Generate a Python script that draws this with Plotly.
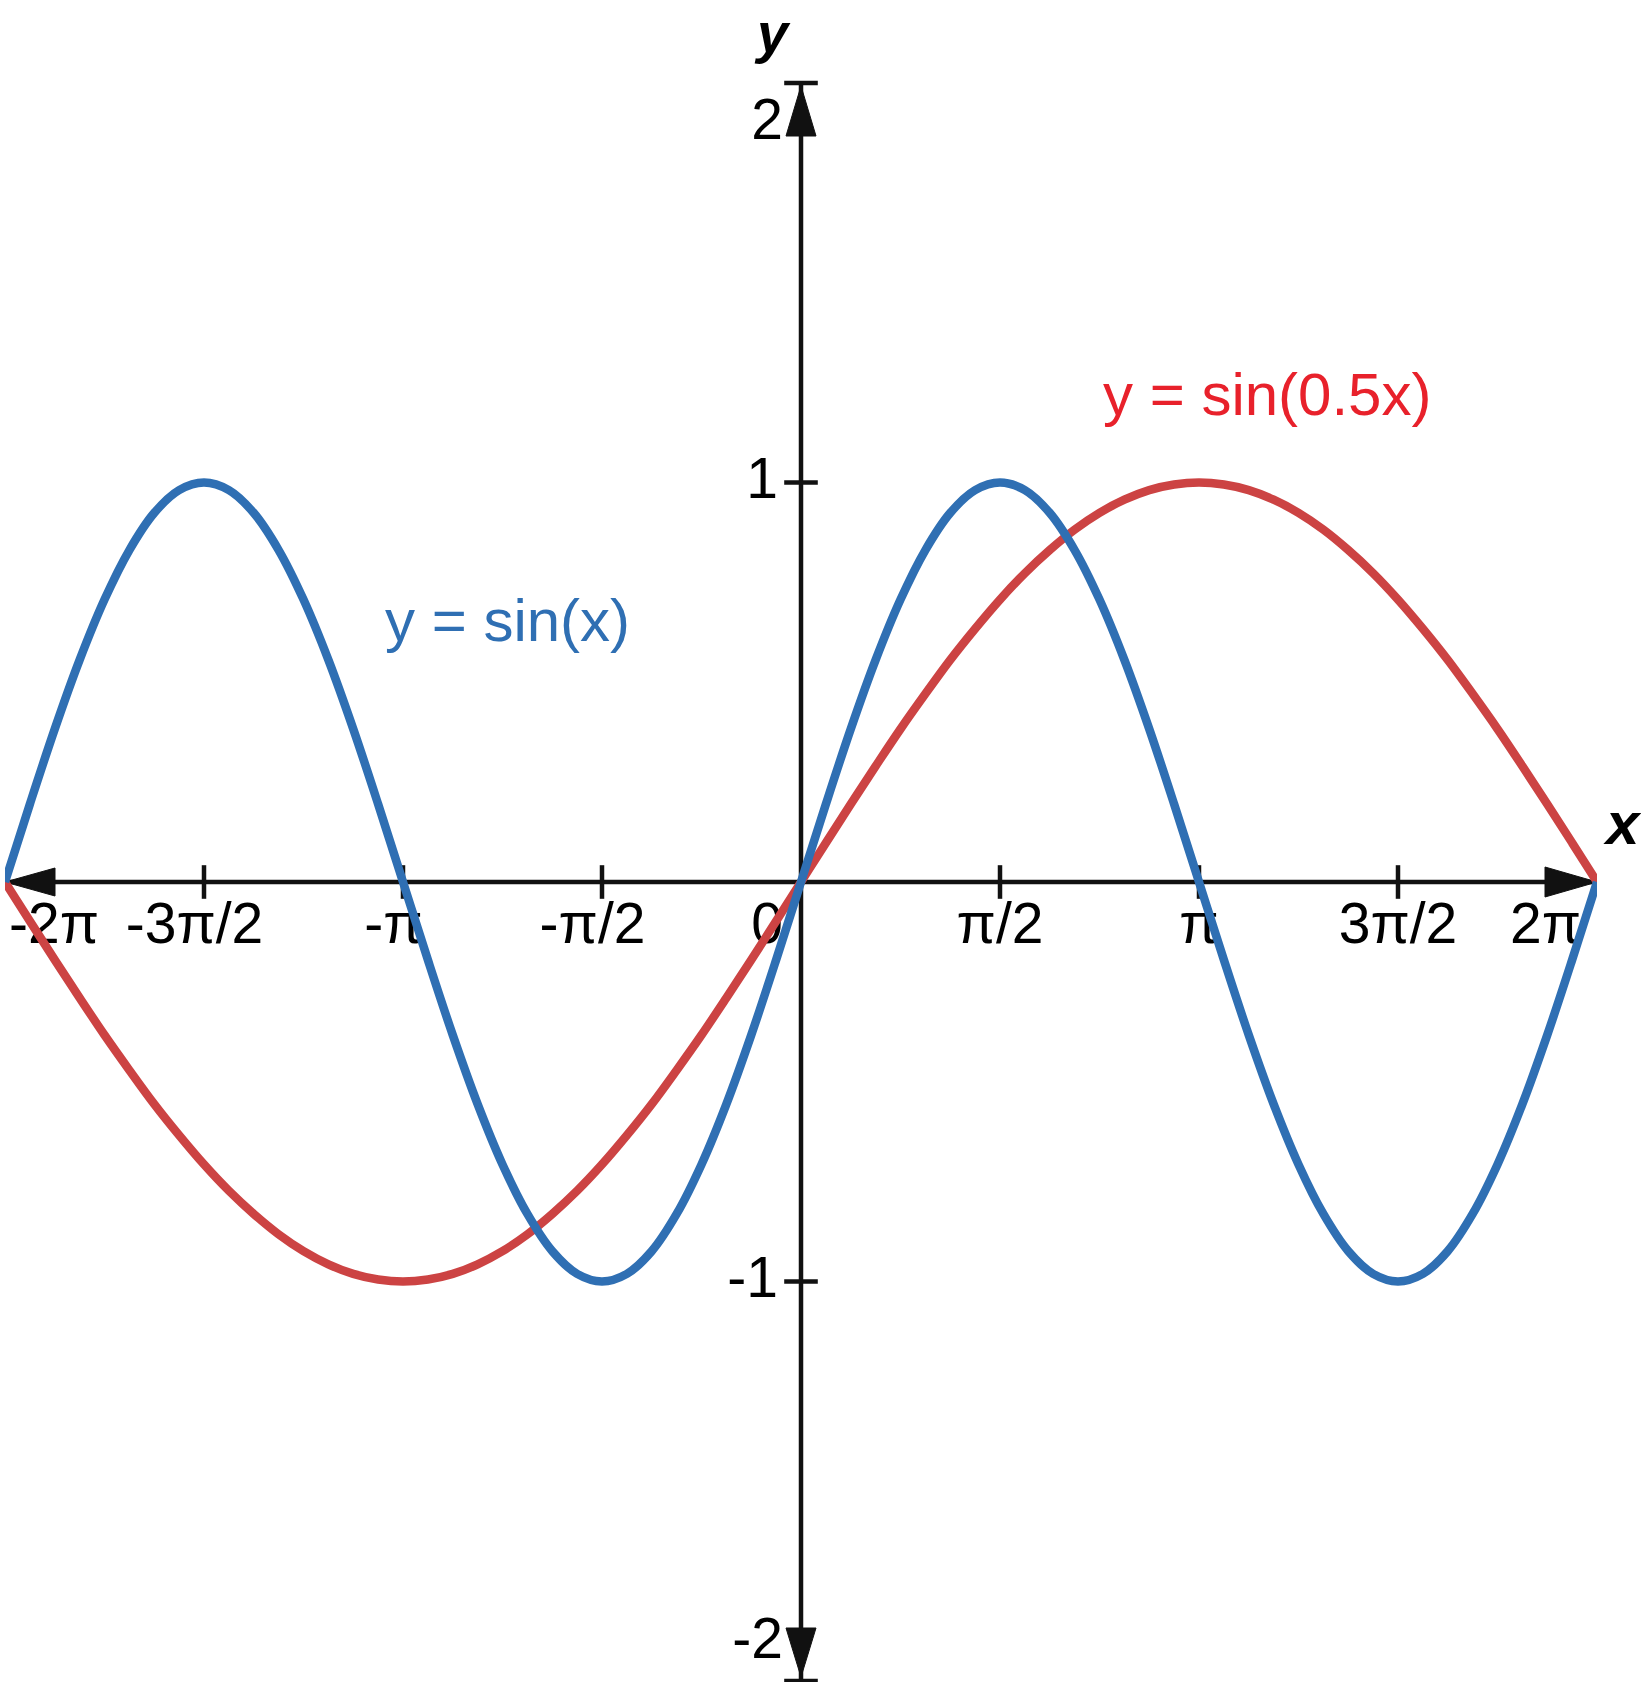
import numpy as np
from plotly import graph_objs as go

# sample points every pi/16 (x given in units of pi)
x_in_pi = [-2.0, -1.9375, -1.875, -1.8125, -1.75, -1.6875, -1.625, -1.5625,
           -1.5, -1.4375, -1.375, -1.3125, -1.25, -1.1875, -1.125, -1.0625,
           -1.0, -0.9375, -0.875, -0.8125, -0.75, -0.6875, -0.625, -0.5625,
           -0.5, -0.4375, -0.375, -0.3125, -0.25, -0.1875, -0.125, -0.0625,
           0.0, 0.0625, 0.125, 0.1875, 0.25, 0.3125, 0.375, 0.4375,
           0.5, 0.5625, 0.625, 0.6875, 0.75, 0.8125, 0.875, 0.9375,
           1.0, 1.0625, 1.125, 1.1875, 1.25, 1.3125, 1.375, 1.4375,
           1.5, 1.5625, 1.625, 1.6875, 1.75, 1.8125, 1.875, 1.9375, 2.0]
sin_x = [0, 0.195, 0.383, 0.556, 0.707, 0.831, 0.924, 0.981,
         1, 0.981, 0.924, 0.831, 0.707, 0.556, 0.383, 0.195,
         0, -0.195, -0.383, -0.556, -0.707, -0.831, -0.924, -0.981,
         -1, -0.981, -0.924, -0.831, -0.707, -0.556, -0.383, -0.195,
         0, 0.195, 0.383, 0.556, 0.707, 0.831, 0.924, 0.981,
         1, 0.981, 0.924, 0.831, 0.707, 0.556, 0.383, 0.195,
         0, -0.195, -0.383, -0.556, -0.707, -0.831, -0.924, -0.981,
         -1, -0.981, -0.924, -0.831, -0.707, -0.556, -0.383, -0.195, 0]
sin_half_x = [0, -0.098, -0.195, -0.290, -0.383, -0.471, -0.556, -0.634,
              -0.707, -0.773, -0.831, -0.882, -0.924, -0.957, -0.981, -0.995,
              -1, -0.995, -0.981, -0.957, -0.924, -0.882, -0.831, -0.773,
              -0.707, -0.634, -0.556, -0.471, -0.383, -0.290, -0.195, -0.098,
              0, 0.098, 0.195, 0.290, 0.383, 0.471, 0.556, 0.634,
              0.707, 0.773, 0.831, 0.882, 0.924, 0.957, 0.981, 0.995,
              1, 0.995, 0.981, 0.957, 0.924, 0.882, 0.831, 0.773,
              0.707, 0.634, 0.556, 0.471, 0.383, 0.290, 0.195, 0.098, 0]

x_tick_pi = [-2, -1.5, -1, -0.5, 0, 0.5, 1, 1.5, 2]
x_tick_text = ["-2π", "-3π/2", "-π", "-π/2", "0", "π/2", "π", "3π/2", "2π"]
y_tick_vals = [2, 1, -1, -2]
y_tick_text = ["2", "1", "-1", "-2"]

BLUE = "#2f6fb3"
RED = "#cc4343"
RED_TEXT = "#e8212b"
AXIS = "#111111"
FONT = "Liberation Sans, Arial, sans-serif"
TICK_SIZE = 57

W, H = 1641, 1682
margin = dict(l=5, r=44, t=83, b=1)
xr = [-2*np.pi, 2*np.pi]
yr = [-2, 2]
plot_w = W - margin["l"] - margin["r"]
plot_h = H - margin["t"] - margin["b"]
sx = plot_w/(xr[1]-xr[0])   # px per x unit
sy = plot_h/(yr[1]-yr[0])   # px per y unit

xs = [v*np.pi for v in x_in_pi]
x_ticks = [v*np.pi for v in x_tick_pi]

data = []

# x tick labels (drawn under the curves); the minus sign hangs to the left
minus_half = 0.333*TICK_SIZE/2
lab_x, lab_pos = [], []
for v, t in zip(x_ticks, x_tick_text):
    if v == xr[0]:
        lab_x.append(v + 4/sx); lab_pos.append("middle right")
    elif v == xr[1]:
        lab_x.append(v - 16/sx); lab_pos.append("middle left")
    elif v == 0:
        lab_x.append(v - 18/sx); lab_pos.append("middle left")
    else:
        shift = minus_half if t.startswith("-") else 0
        lab_x.append(v - shift/sx); lab_pos.append("middle center")
data.append(go.Scatter(
    x=lab_x, y=[-47/sy]*len(lab_x), mode="text", text=x_tick_text,
    textposition=lab_pos, textfont=dict(family=FONT, size=TICK_SIZE, color="black"),
    hoverinfo="skip", showlegend=False))

# y tick labels
ylab_y = []
for v in y_tick_vals:
    if v == yr[1]:
        ylab_y.append(v - 42/sy)
    elif v == yr[0]:
        ylab_y.append(v + 37/sy)
    else:
        ylab_y.append(v - 1/sy)
ylab_x = [(-18 if abs(v) == 2 else -23)/sx for v in y_tick_vals]
data.append(go.Scatter(
    x=ylab_x, y=ylab_y, mode="text", text=y_tick_text, cliponaxis=False,
    textposition="middle left", textfont=dict(family=FONT, size=TICK_SIZE, color="black"),
    hoverinfo="skip", showlegend=False))

# tick marks
inner = [v for v in x_ticks if v not in (0, xr[0], xr[1])]
data.append(go.Scatter(
    x=inner, y=[0]*len(inner), mode="markers",
    marker=dict(symbol="line-ns", size=24, line=dict(width=4.5, color=AXIS)),
    hoverinfo="skip", showlegend=False))
data.append(go.Scatter(
    x=[0]*len(y_tick_vals), y=y_tick_vals, mode="markers", cliponaxis=False,
    marker=dict(symbol="line-ew", size=24, line=dict(width=4.5, color=AXIS)),
    hoverinfo="skip", showlegend=False))

# curves
data.append(go.Scatter(
    x=xs, y=sin_half_x, mode="lines", line=dict(color=RED, width=8.5, shape="spline"),
    hoverinfo="skip", showlegend=False))
data.append(go.Scatter(
    x=xs, y=sin_x, mode="lines", line=dict(color=BLUE, width=8.5, shape="spline"),
    hoverinfo="skip", showlegend=False))

# axes lines and arrow heads
def arrow(tip_x, tip_y, dx, dy, hw_x, hw_y):
    bx, by = tip_x + dx, tip_y + dy
    return "M %f,%f L %f,%f L %f,%f Z" % (tip_x, tip_y, bx + hw_x, by + hw_y, bx - hw_x, by - hw_y)

shapes = [
    dict(type="line", xref="x", yref="y", x0=xr[0], x1=xr[1], y0=0, y1=0,
         line=dict(color=AXIS, width=4.5), layer="below"),
    dict(type="line", xref="x", yref="y", x0=0, x1=0, y0=yr[0], y1=yr[1],
         line=dict(color=AXIS, width=4.5), layer="below"),
    dict(type="path", xref="x", yref="y", layer="below", fillcolor=AXIS,
         line=dict(color=AXIS, width=1),
         path=arrow(xr[0], 0, 50/sx, 0, 0, 14/sy)),
    dict(type="path", xref="x", yref="y", layer="below", fillcolor=AXIS,
         line=dict(color=AXIS, width=1),
         path=arrow(xr[1], 0, -52/sx, 0, 0, 15/sy)),
    dict(type="path", xref="x", yref="y", layer="below", fillcolor=AXIS,
         line=dict(color=AXIS, width=1),
         path=arrow(0, yr[1] - 3/sy, 0, -50/sy, 15/sx, 0)),
    dict(type="path", xref="x", yref="y", layer="below", fillcolor=AXIS,
         line=dict(color=AXIS, width=1),
         path=arrow(0, yr[0] + 4/sy, 0, 49/sy, 15/sx, 0)),
]

# paper coords for text outside the axis ranges
def px_to_paper(px, py):
    return (px - margin["l"])/plot_w, (H - margin["b"] - py)/plot_h

yt_x, yt_y = px_to_paper(772, 0)
xt_x, xt_y = px_to_paper(1622, 824)

annotations = [
    dict(x=yt_x, y=yt_y, xref="paper", yref="paper", text="y", showarrow=False,
         font=dict(family=FONT, size=56, color="black", weight="bold", style="italic"),
         xanchor="center", yanchor="top", borderpad=0),
    dict(x=xt_x, y=xt_y, xref="paper", yref="paper", text="x", showarrow=False,
         font=dict(family=FONT, size=60, color="black", weight="bold", style="italic"),
         xanchor="center", yanchor="middle"),
    dict(x=-418/sx, y=262/sy, xref="x", yref="y", text="y = sin(x)", showarrow=False,
         font=dict(family=FONT, size=60, color=BLUE), xanchor="left", yanchor="middle"),
    dict(x=300/sx, y=488/sy, xref="x", yref="y", text="y = sin(0.5x)", showarrow=False,
         font=dict(family=FONT, size=60, color=RED_TEXT), xanchor="left", yanchor="middle"),
]

layout = go.Layout(
    width=W, height=H,
    margin=margin,
    paper_bgcolor="white",
    plot_bgcolor="white",
    showlegend=False,
    xaxis=dict(range=xr, visible=False, fixedrange=True),
    yaxis=dict(range=yr, visible=False, fixedrange=True),
    shapes=shapes,
    annotations=annotations,
)

fig = go.Figure(data=data, layout=layout)
fig.write_html("out.html", config=dict(displayModeBar=False),
               post_script="document.body.style.margin='0';document.body.style.overflow='hidden';")
